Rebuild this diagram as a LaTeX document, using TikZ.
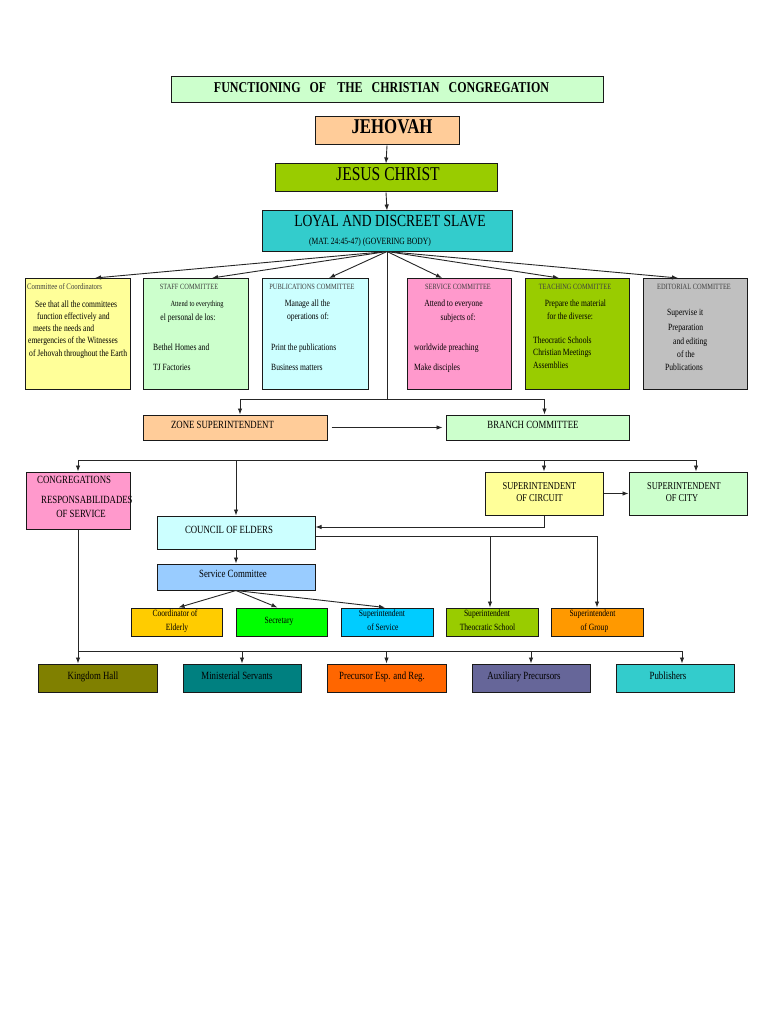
\documentclass[tikz,border=0pt]{standalone}
\usepackage{fontspec}
\setmainfont{Liberation Serif}[FakeStretch=0.8]
\usetikzlibrary{arrows.meta}
\newcommand{\fz}[1]{\fontsize{#1}{#1}\selectfont}
\definecolor{cLightGreen}{HTML}{CCFFCC}
\definecolor{cPeach}{HTML}{FFCC99}
\definecolor{cLime}{HTML}{99CC00}
\definecolor{cTeal}{HTML}{33CCCC}
\definecolor{cLightYellow}{HTML}{FFFF99}
\definecolor{cLightCyan}{HTML}{CCFFFF}
\definecolor{cPink}{HTML}{FF99CC}
\definecolor{cGray}{HTML}{C0C0C0}
\definecolor{cSky}{HTML}{99CCFF}
\definecolor{cGold}{HTML}{FFCC00}
\definecolor{cGreen}{HTML}{00FF00}
\definecolor{cCyan}{HTML}{00CCFF}
\definecolor{cOrange}{HTML}{FF9900}
\definecolor{cOlive}{HTML}{808000}
\definecolor{cDTeal}{HTML}{008080}
\definecolor{cROrange}{HTML}{FF6600}
\definecolor{cPurple}{HTML}{666699}
\tikzset{
  box/.style={draw=black!90, line width=1pt, rectangle, inner sep=0pt},
  arr/.style={-{Latex[length=6pt,width=4.5pt]}, line width=0.9pt, draw=black!85},
  ln/.style={line width=0.9pt, draw=black!85},
  txt/.style={inner sep=0pt, anchor=mid, text=black},
  txl/.style={inner sep=0pt, anchor=mid west, text=black},
  ctitle/.style={txt, text=black!75, font=\fz{8}},
  body/.style={font=\fz{9.5}},
  mid/.style={font=\fz{11}},
  small/.style={font=\fz{9.5}},
}
\begin{document}
\begin{tikzpicture}[x=1pt,y=-1pt]
\fill[white] (0,0) rectangle (768,1024);
\useasboundingbox (0,0) rectangle (768,1024);

% ---------- boxes ----------
\node[box, fill=cLightGreen, minimum width=432pt, minimum height=26pt] (title) at (387,90) {};
\node[box, fill=cPeach, minimum width=144pt, minimum height=28pt] (jeh) at (387,131) {};
\node[box, fill=cLime, minimum width=222pt, minimum height=28pt] (jesus) at (386,178) {};
\node[box, fill=cTeal, minimum width=250pt, minimum height=40pt] (slave) at (387,231) {};

\node[box, fill=cLightYellow, minimum width=105pt, minimum height=111pt] (coord) at (78,334) {};
\node[box, fill=cLightGreen, minimum width=105pt, minimum height=111pt] (staff) at (196,334) {};
\node[box, fill=cLightCyan, minimum width=106pt, minimum height=111pt] (pub) at (315,334) {};
\node[box, fill=cPink, minimum width=104pt, minimum height=111pt] (serv) at (459,334) {};
\node[box, fill=cLime, minimum width=104pt, minimum height=111pt] (teach) at (577,334) {};
\node[box, fill=cGray, minimum width=104pt, minimum height=111pt] (edit) at (695,334) {};

\node[box, fill=cPeach, minimum width=184pt, minimum height=25pt] (zone) at (235,427.5) {};
\node[box, fill=cLightGreen, minimum width=183pt, minimum height=25pt] (branch) at (537.5,427.5) {};

\node[box, fill=cPink, minimum width=104pt, minimum height=57pt] (congr) at (78,500.5) {};
\node[box, fill=cLightYellow, minimum width=118pt, minimum height=43pt] (circ) at (544,493.5) {};
\node[box, fill=cLightGreen, minimum width=118pt, minimum height=43pt] (city) at (688,493.5) {};
\node[box, fill=cLightCyan, minimum width=158pt, minimum height=33pt] (elders) at (236,532.5) {};
\node[box, fill=cSky, minimum width=158pt, minimum height=26pt] (scomm) at (236,577) {};

\node[box, fill=cGold, minimum width=91pt, minimum height=28pt] (celd) at (176.5,622) {};
\node[box, fill=cGreen, minimum width=91pt, minimum height=28pt] (sec) at (281.5,622) {};
\node[box, fill=cCyan, minimum width=92pt, minimum height=28pt] (sos) at (387,622) {};
\node[box, fill=cLime, minimum width=92pt, minimum height=28pt] (sts) at (492,622) {};
\node[box, fill=cOrange, minimum width=92pt, minimum height=28pt] (sog) at (597,622) {};

\node[box, fill=cOlive, minimum width=119pt, minimum height=28pt] (kh) at (97.5,678) {};
\node[box, fill=cDTeal, minimum width=118pt, minimum height=28pt] (ms) at (242,678) {};
\node[box, fill=cROrange, minimum width=119pt, minimum height=28pt] (pe) at (386.5,678) {};
\node[box, fill=cPurple, minimum width=118pt, minimum height=28pt] (ap) at (531,678) {};
\node[box, fill=cTeal, minimum width=118pt, minimum height=28pt] (pubs) at (675,678) {};

% ---------- texts ----------
\node[txt, font=\fz{15}\bfseries] (tTitle) at (381.5,90) {FUNCTIONING\hspace{9pt}OF\hspace{11pt}THE\hspace{9pt}CHRISTIAN\hspace{9pt}CONGREGATION};
\node[txt, font=\fz{21}\bfseries] (tJeh) at (392,131) {JEHOVAH};
\node[txt, font=\fz{19.5}] (tJesus) at (388,178) {JESUS CHRIST};
\node[txt, font=\fz{17}] (tSlave) at (390,224) {LOYAL AND DISCREET SLAVE};
\node[txt, font=\fz{9.5}] (tSlave2) at (370,242) {(MAT. 24:45-47) (GOVERING BODY)};

% coordinators
\node[txl, font=\fz{8.5}, text=black!75] (c0) at (27,287) {Committee of Coordinators};
\node[txl, body] (c1) at (35,305) {See that all the committees};
\node[txl, body] (c2) at (37,317) {function effectively and};
\node[txl, body] (c3) at (33,329) {meets the needs and};
\node[txl, body] (c4) at (28,341) {emergencies of the Witnesses};
\node[txl, body] (c5) at (29,354) {of Jehovah throughout the Earth};
% staff
\node[ctitle] (s0) at (189,287) {STAFF COMMITTEE};
\node[txt, font=\fz{8}] (s1) at (197,304) {Attend to everything};
\node[txt, body] (s2) at (188,318) {el personal de los:};
\node[txl, body] (s3) at (153,348) {Bethel Homes and};
\node[txl, body] (s4) at (153,368) {TJ Factories};
% publications
\node[ctitle] (p0) at (312,287) {PUBLICATIONS COMMITTEE};
\node[txt, body] (p1) at (307.5,304) {Manage all the};
\node[txt, body] (p2) at (308,317) {operations of:};
\node[txl, body] (p3) at (271,348) {Print the publications};
\node[txl, body] (p4) at (271,368) {Business matters};
% service
\node[ctitle] (v0) at (458,287) {SERVICE COMMITTEE};
\node[txt, body] (v1) at (453.5,304) {Attend to everyone};
\node[txt, body] (v2) at (458,318) {subjects of:};
\node[txl, body] (v3) at (414,348) {worldwide preaching};
\node[txl, body] (v4) at (414,368) {Make disciples};
% teaching
\node[ctitle] (e0) at (575,287) {TEACHING COMMITTEE};
\node[txt, body] (e1) at (575.5,304) {Prepare the material};
\node[txt, body] (e2) at (570,317) {for the diverse:};
\node[txl, body] (e3) at (533,341) {Theocratic Schools};
\node[txl, body] (e4) at (533,353) {Christian Meetings};
\node[txl, body] (e5) at (533,366) {Assemblies};
% editorial
\node[ctitle] (d0) at (694,287) {EDITORIAL COMMITTEE};
\node[txl, body] (d1) at (667,313) {Supervise it};
\node[txl, body] (d2) at (668,328) {Preparation};
\node[txl, body] (d3) at (673,342) {and editing};
\node[txl, body] (d4) at (677,355) {of the};
\node[txl, body] (d5) at (665,368) {Publications};

% middle
\node[txt, mid] (tZone) at (222.5,426.5) {ZONE SUPERINTENDENT};
\node[txt, mid] (tBranch) at (533,426) {BRANCH COMMITTEE};
\node[txl, mid] (g1) at (37,481) {CONGREGATIONS};
\node[txl, mid] (g2) at (41,501) {RESPONSABILIDADES};
\node[txt, mid] (g3) at (81,515) {OF SERVICE};
\node[txt, font=\fz{10.5}] (r1) at (539.5,487) {SUPERINTENDENT};
\node[txt, font=\fz{10.5}] (r2) at (539.5,499) {OF CIRCUIT};
\node[txt, font=\fz{10.5}] (y1) at (684,487) {SUPERINTENDENT};
\node[txt, font=\fz{10.5}] (y2) at (682,499) {OF CITY};
\node[txt, mid] (tElders) at (229,531) {COUNCIL OF ELDERS};
\node[txt, mid] (tScomm) at (233,575.5) {Service Committee};

\node[txt, small] (k1) at (175,614) {Coordinator of};
\node[txt, small] (k2) at (177,628) {Elderly};
\node[txt, small] (k3) at (279,621) {Secretary};
\node[txt, small] (k4) at (382,614) {Superintendent};
\node[txt, small] (k5) at (383,628) {of Service};
\node[txt, small] (k6) at (487,614) {Superintendent};
\node[txt, small] (k7) at (487.5,628) {Theocratic School};
\node[txt, small] (k8) at (592.5,614) {Superintendent};
\node[txt, small] (k9) at (594.5,628) {of Group};

\node[txt, mid] (b1) at (93,677) {Kingdom Hall};
\node[txt, mid] (b2) at (237,677) {Ministerial Servants};
\node[txt, mid] (b3) at (382,677) {Precursor Esp. and Reg.};
\node[txt, mid] (b4) at (524,677) {Auxiliary Precursors};
\node[txt, mid] (b5) at (668,677) {Publishers};

% ---------- connectors ----------
\draw[arr] (jeh.south) -- (jesus.north);
\draw[arr] (jesus.south) -- (slave.north);

\draw[arr] (slave.south) -- ([xshift=17pt]coord.north);
\draw[arr] (slave.south) -- ([xshift=16pt]staff.north);
\draw[arr] (slave.south) -- ([xshift=14pt]pub.north);
\draw[arr] (slave.south) -- ([xshift=-17pt]serv.north);
\draw[arr] (slave.south) -- ([xshift=-18pt]teach.north);
\draw[arr] (slave.south) -- ([xshift=-17pt]edit.north);

\coordinate (bus1) at (387,399);
\draw[ln] (slave.south) -- (bus1);
\draw[arr] (bus1) -| ([xshift=5pt]zone.north);
\draw[arr] (bus1) -| ([xshift=7pt]branch.north);
\draw[arr] ([xshift=4pt]zone.east) -- ([xshift=-3pt]branch.west);

\coordinate (bus2L) at (78,460);
\coordinate (bus2R) at (696,460);
\coordinate (cityIn) at ([xshift=8pt]city.north);
\draw[ln] (bus2L) -- (bus2R);
\draw[arr] (bus2L) -- (congr.north);
\draw[arr] (elders.north |- bus2L) -- (elders.north);
\draw[arr] (circ.north |- bus2L) -- (circ.north);
\draw[arr] (cityIn |- bus2L) -- (cityIn);
\draw[arr] (circ.east) -- (city.west);

\draw[arr] (circ.south) |- ([yshift=5.5pt]elders.east);
\coordinate (e2) at ([yshift=-3.5pt]elders.east);
\draw[arr] (e2) -| (sog.north);
\draw[arr] (e2) -| ([xshift=-2pt]sts.north);

\draw[arr] (elders.south) -- (scomm.north);
\draw[arr] (scomm.south) -- ([xshift=2pt]celd.north);
\draw[arr] (scomm.south) -- ([xshift=-4pt]sec.north);
\draw[arr] (scomm.south) -- ([xshift=-2pt]sos.north);

\coordinate (bus3L) at (78,651);
\coordinate (bus3R) at (682,651);
\draw[ln] (congr.south) -- (bus3L) -- (bus3R);
\draw[arr] (bus3L) -- (bus3L |- kh.north);
\draw[arr] (ms.north |- bus3L) -- (ms.north);
\draw[arr] (pe.north |- bus3L) -- (pe.north);
\draw[arr] (ap.north |- bus3L) -- (ap.north);
\draw[arr] (bus3R) -- (bus3R |- pubs.north);
\end{tikzpicture}
\end{document}
